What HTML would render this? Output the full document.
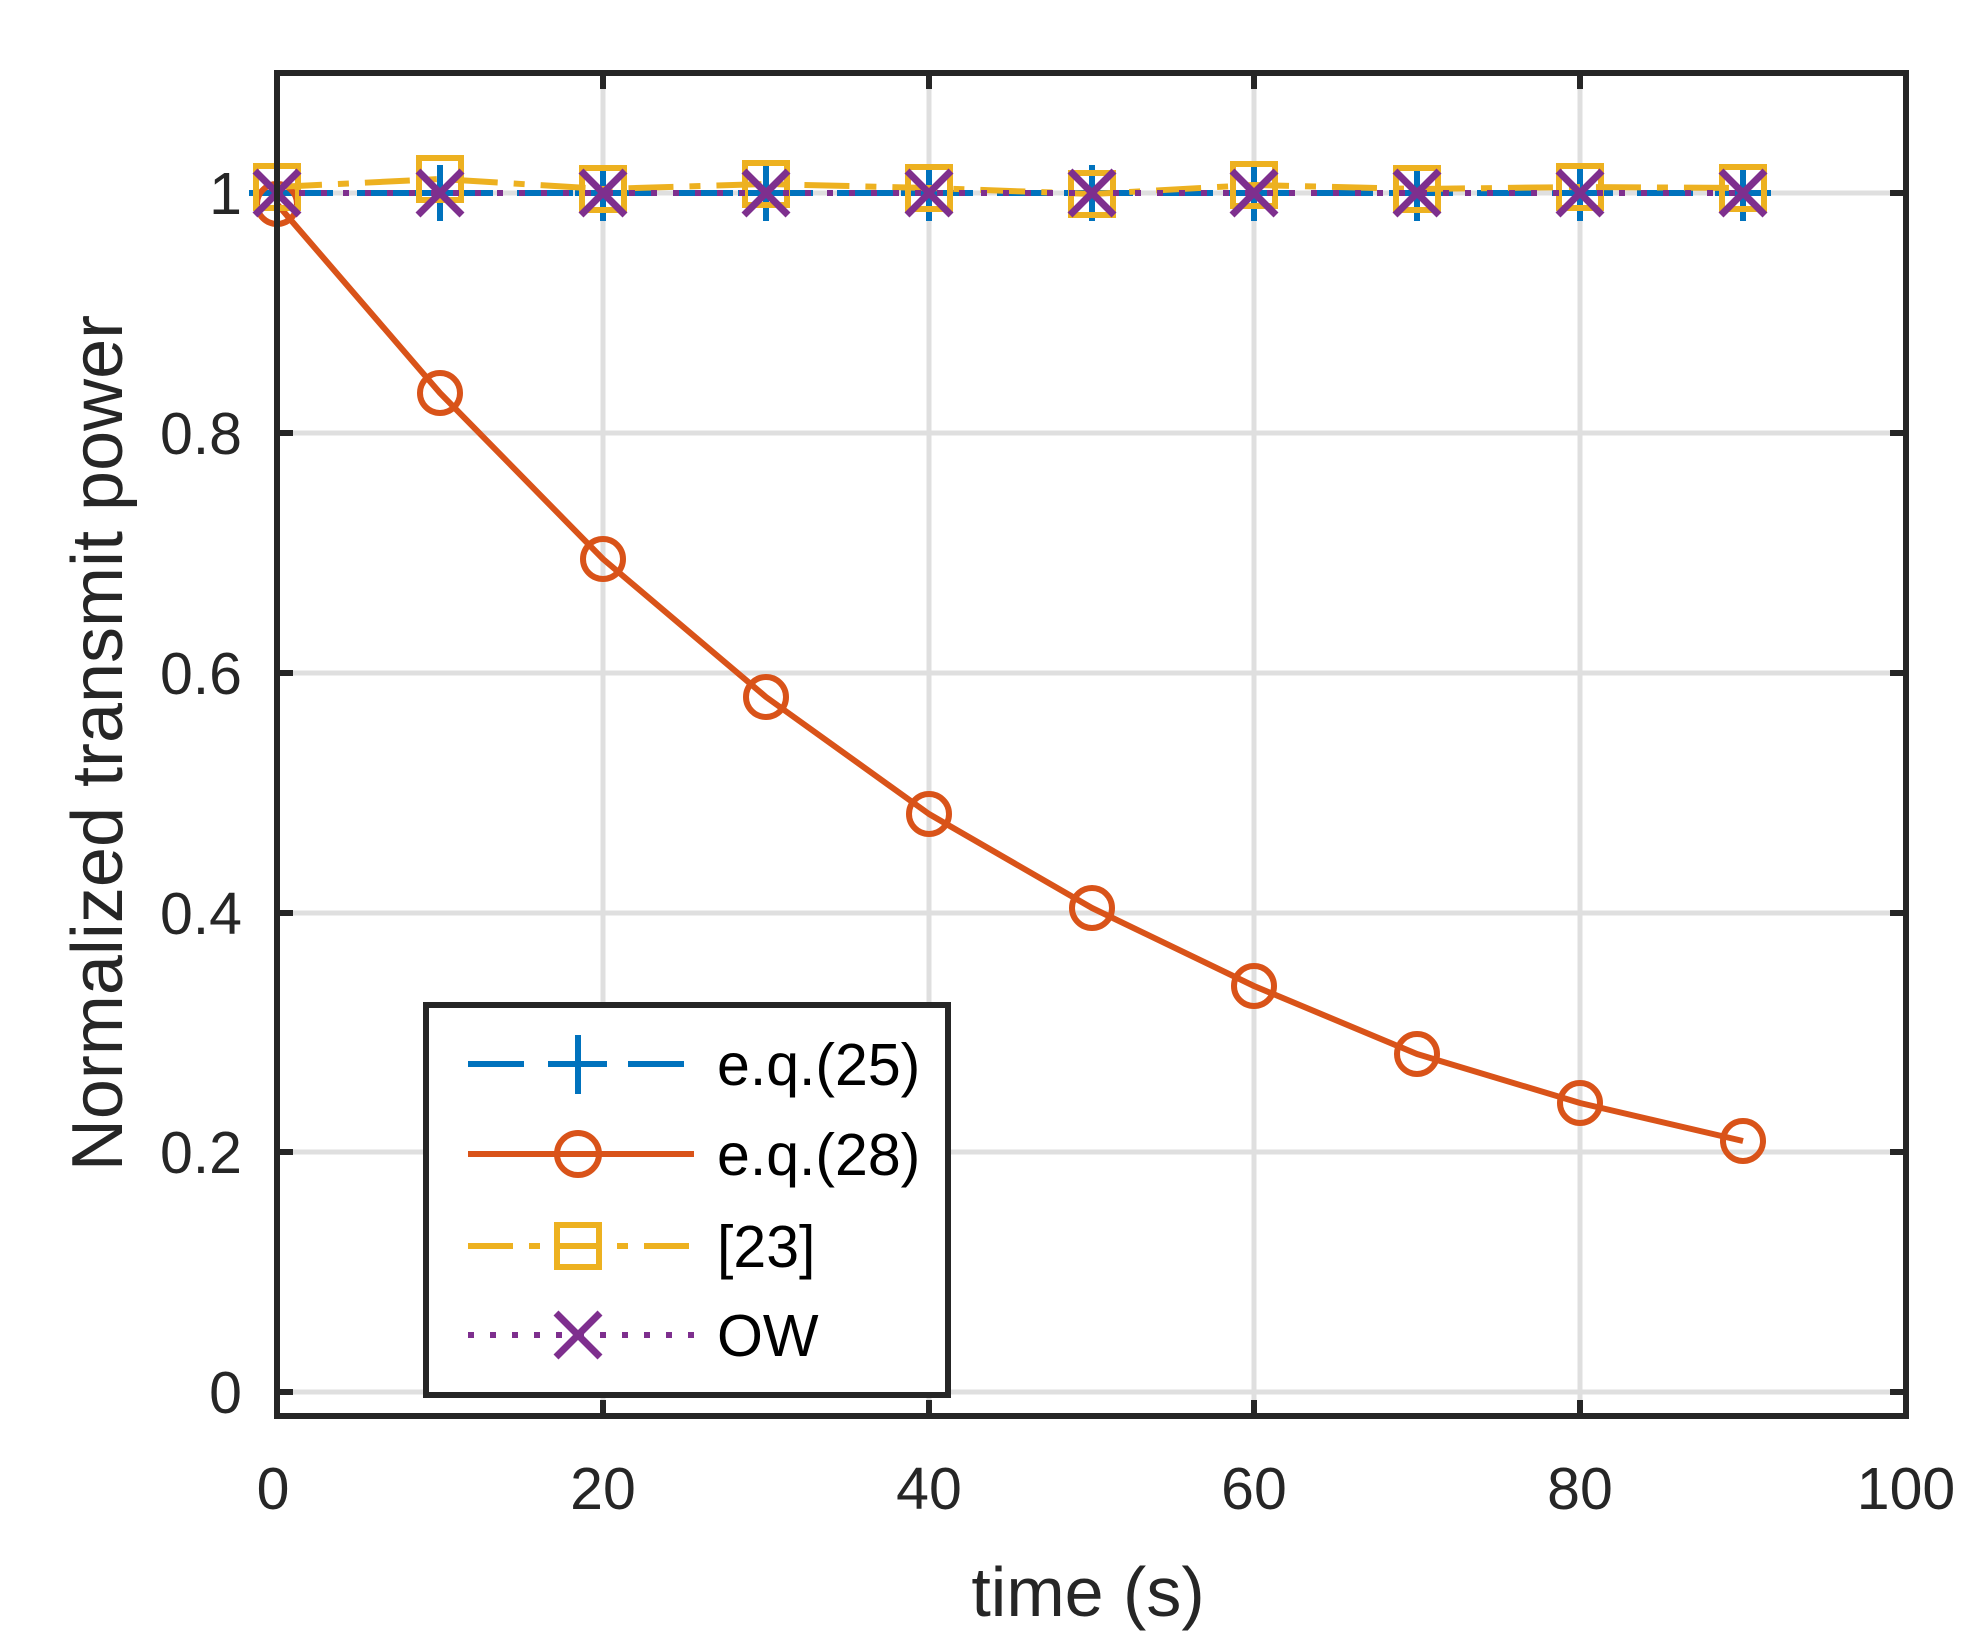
<!DOCTYPE html>
<html><head><meta charset="utf-8"><style>html,body{margin:0;padding:0;background:#fff}svg{display:block}</style></head>
<body>
<svg width="1984" height="1650" viewBox="0 0 1984 1650" xmlns="http://www.w3.org/2000/svg" font-family="Liberation Sans, Arial, sans-serif">
<defs>
<marker id="mp" markerUnits="userSpaceOnUse" markerWidth="70" markerHeight="70" refX="35" refY="35" overflow="visible"><path d="M35 7V63M7 35H63" stroke="#0072BD" stroke-width="6" fill="none"/></marker>
<marker id="mo" markerUnits="userSpaceOnUse" markerWidth="70" markerHeight="70" refX="35" refY="35" overflow="visible"><circle cx="35" cy="35" r="20" stroke="#D95319" stroke-width="6" fill="none"/></marker>
<marker id="ms" markerUnits="userSpaceOnUse" markerWidth="70" markerHeight="70" refX="35" refY="35" overflow="visible"><rect x="14" y="14" width="42" height="42" stroke="#EDB120" stroke-width="6" fill="none"/></marker>
<marker id="mx" markerUnits="userSpaceOnUse" markerWidth="70" markerHeight="70" refX="35" refY="35" overflow="visible"><path d="M13 13L57 57M57 13L13 57" stroke="#7E2F8E" stroke-width="7" fill="none"/></marker>
</defs>
<rect width="1984" height="1650" fill="#fff"/>
<g stroke="#dfdfdf" stroke-width="5">
<line x1="603" y1="73" x2="603" y2="1416"/><line x1="929" y1="73" x2="929" y2="1416"/><line x1="1254" y1="73" x2="1254" y2="1416"/><line x1="1580" y1="73" x2="1580" y2="1416"/>
<line x1="277" y1="1392" x2="1906" y2="1392"/><line x1="277" y1="1152" x2="1906" y2="1152"/><line x1="277" y1="913" x2="1906" y2="913"/><line x1="277" y1="673" x2="1906" y2="673"/><line x1="277" y1="433" x2="1906" y2="433"/><line x1="277" y1="193" x2="1906" y2="193"/>
</g>
<g stroke="#262626" stroke-width="6">
<path d="M603 1416v-16M929 1416v-16M1254 1416v-16M1580 1416v-16M603 73v16M929 73v16M1254 73v16M1580 73v16"/>
<path d="M277 1392h16M277 1152h16M277 913h16M277 673h16M277 433h16M277 193h16M1906 1392h-16M1906 1152h-16M1906 913h-16M1906 673h-16M1906 433h-16M1906 193h-16"/>
</g>
<g fill="none" stroke-width="6" stroke-linejoin="round">
<polyline stroke="#0072BD" stroke-dasharray="56 24" points="277,193 440,193 603,193 766,193 929,193 1092,193 1254,193 1417,193 1580,193 1743,193" marker-start="url(#mp)" marker-mid="url(#mp)" marker-end="url(#mp)"/>
<polyline stroke="#D95319" points="277,204 440,393 603,559 766,697 929,814 1092,908 1254,986 1417,1054 1580,1103 1743,1141" marker-start="url(#mo)" marker-mid="url(#mo)" marker-end="url(#mo)"/>
<polyline stroke="#EDB120" stroke-dasharray="45 16 11 16" points="277,187 440,179 603,189 766,184 929,188 1092,194 1254,185 1417,189 1580,187 1743,188" marker-start="url(#ms)" marker-mid="url(#ms)" marker-end="url(#ms)"/>
<polyline stroke="#7E2F8E" stroke-dasharray="6 16" points="277,193 440,193 603,193 766,193 929,193 1092,193 1254,193 1417,193 1580,193 1743,193" marker-start="url(#mx)" marker-mid="url(#mx)" marker-end="url(#mx)"/>
</g>
<rect x="277" y="73" width="1629" height="1343" fill="none" stroke="#262626" stroke-width="6"/>
<g fill="#262626" font-size="59" text-anchor="middle">
<text x="273" y="1509">0</text><text x="603" y="1509">20</text><text x="929" y="1509">40</text><text x="1254" y="1509">60</text><text x="1580" y="1509">80</text><text x="1906" y="1509">100</text>
</g>
<g fill="#262626" font-size="59" text-anchor="end">
<text x="242" y="1413">0</text><text x="242" y="1173">0.2</text><text x="242" y="934">0.4</text><text x="242" y="694">0.6</text><text x="242" y="454">0.8</text><text x="242" y="214">1</text>
</g>
<text x="1088" y="1616" font-size="70" fill="#262626" text-anchor="middle">time (s)</text>
<text transform="translate(122,743) rotate(-90)" font-size="72" fill="#262626" text-anchor="middle">Normalized transmit power</text>
<rect x="426" y="1005" width="522" height="390" fill="#fff" stroke="#262626" stroke-width="6"/>
<g fill="none" stroke-width="6">
<line x1="468" y1="1064" x2="694" y2="1064" stroke="#0072BD" stroke-dasharray="56 24"/>
<path d="M578 1035V1094M549 1064H607" stroke="#0072BD"/>
<line x1="468" y1="1154" x2="694" y2="1154" stroke="#D95319"/>
<circle cx="578" cy="1154" r="21" stroke="#D95319"/>
<line x1="468" y1="1246" x2="694" y2="1246" stroke="#EDB120" stroke-dasharray="45 16 11 16"/>
<rect x="557" y="1225" width="42" height="42" stroke="#EDB120"/>
<line x1="468" y1="1335" x2="694" y2="1335" stroke="#7E2F8E" stroke-dasharray="6 16"/>
<path d="M556 1313L600 1357M600 1313L556 1357" stroke="#7E2F8E" stroke-width="7"/>
</g>
<g fill="#000" font-size="59">
<text x="717" y="1085">e.q.(25)</text><text x="717" y="1175">e.q.(28)</text><text x="717" y="1267">[23]</text><text x="717" y="1356">OW</text>
</g>
</svg>
</body></html>
